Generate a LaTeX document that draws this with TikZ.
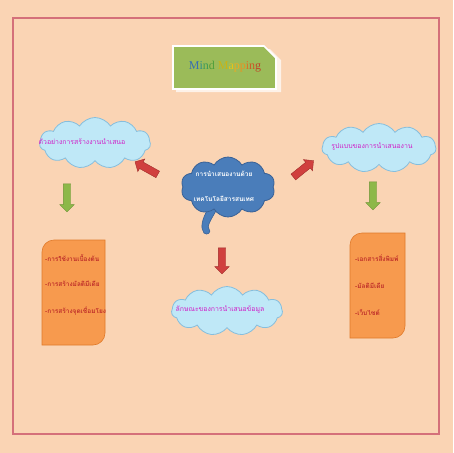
\documentclass[tikz,border=0pt]{standalone}
\usepackage{fontspec}
\setmainfont{Liberation Serif}
\newfontfamily\thaifont[Script=Thai]{Loma}
\usetikzlibrary{shapes.symbols,shapes.arrows,shadows}
\definecolor{bgpeach}{HTML}{FAD4B4}
\definecolor{framered}{HTML}{D4707A}
\definecolor{cloudfill}{HTML}{BFE8F7}
\definecolor{cloudline}{HTML}{86BEDD}
\definecolor{darkcloud}{HTML}{4A7DBA}
\definecolor{darkline}{HTML}{3A6296}
\definecolor{thaimag}{HTML}{D020C8}
\definecolor{orangebox}{HTML}{F79A4E}
\definecolor{orangeline}{HTML}{E07A2A}
\definecolor{boxtext}{HTML}{C0302A}
\definecolor{titlegreen}{HTML}{9BBB59}
\definecolor{redarrow}{HTML}{D0403E}
\definecolor{redline}{HTML}{A02C2A}
\definecolor{greenarrow}{HTML}{8DB849}
\definecolor{greenline}{HTML}{6E9436}
\tikzset{
  lightcloud/.style={cloud, cloud puffs=11, cloud puff arc=115, aspect=2.2,
    fill=cloudfill, draw=cloudline, line width=0.8pt, inner sep=0pt,
    minimum width=111pt, minimum height=51pt},
  cloudtext/.style={inner sep=0pt, text=thaimag,
    font=\thaifont\fontsize{6.9}{8}\selectfont},
  darkcloudst/.style={cloud, cloud puffs=10, cloud puff arc=120, aspect=1.6,
    fill=darkcloud, draw=darkline, line width=0.8pt, inner sep=0pt,
    minimum width=94pt, minimum height=60pt},
  redarr/.style={single arrow, fill=redarrow, draw=redline, line width=0.4pt,
    inner sep=3.5pt, single arrow head extend=3.5pt, minimum height=26pt},
  greenarr/.style={single arrow, fill=greenarrow, draw=greenline, line width=0.4pt,
    inner sep=3.5pt, single arrow head extend=3.5pt, minimum height=28pt, rotate=-90},
  boxline/.style={anchor=west, inner sep=0pt, text=boxtext,
    font=\thaifont\bfseries\fontsize{6.5}{8}\selectfont},
  centertext/.style={inner sep=0pt, text=white,
    font=\thaifont\bfseries\fontsize{6.5}{8}\selectfont},
}
\begin{document}
\begin{tikzpicture}[x=1pt,y=1pt]
% background
\fill[bgpeach] (0,0) rectangle (453,-453);
\useasboundingbox (0,0) rectangle (453,-453);
\draw[framered, line width=1.3pt] (13,-18) rectangle (439,-434);

% title box
\fill[white!70!bgpeach] (176,-49) -- (270,-49) -- (281,-60) -- (281,-92) -- (176,-92) -- cycle;
\draw[fill=titlegreen, draw=white, line width=1.6pt] (173,-46) -- (264,-46) -- (276,-58) -- (276,-89) -- (173,-89) -- cycle;
\node (title) at (225,-67) {\fontsize{12}{14}\selectfont
  \textcolor[HTML]{3A6FB0}{M}\textcolor[HTML]{2E8C8C}{i}\textcolor[HTML]{3C9A5A}{n}\textcolor[HTML]{4E9E3A}{d}
  \textcolor[HTML]{C8B418}{M}\textcolor[HTML]{E8C418}{a}\textcolor[HTML]{F0A820}{p}\textcolor[HTML]{EC9020}{p}\textcolor[HTML]{DE7024}{i}\textcolor[HTML]{CE5626}{n}\textcolor[HTML]{C04428}{g}};

% clouds
\node[lightcloud] (left) at (95,-143) {};
\node[cloudtext] (lefttext) at (82,-142) {ตัวอย่างการสร้างงานนำเสนอ};
\node[lightcloud, minimum width=114pt, minimum height=49pt] (right) at (379,-148) {};
\node[cloudtext] (righttext) at (372,-147) {รูปแบบของการนำเสนองาน};
\node[lightcloud, minimum height=49pt] (bottom) at (227,-311) {};
\node[cloudtext] (bottomtext) at (220,-310) {ลักษณะของการนำเสนอข้อมูล};

% center cloud tail
\fill[darkcloud, draw=darkline, line width=0.6pt]
  (208,-209) .. controls (202,-219) and (200,-228) .. (204,-233)
  .. controls (207,-236) and (212,-232) .. (209,-229)
  .. controls (206,-227) and (212,-218) .. (217,-209) -- cycle;
\node[darkcloudst] (center) at (228,-187) {};
\node[centertext] (ct1) at (224,-174) {การนำเสนองานด้วย};
\node[centertext] (ct2) at (224,-199) {เทคโนโลยีสารสนเทศ};

% red arrows
\node[redarr, rotate=151] (ra1) at (148,-169) {};
\node[redarr, rotate=39] (ra2) at (302,-170) {};
\node[redarr, rotate=-90] (ra3) at (222,-259) {};

% green arrows
\node[greenarr] (ga1) at (67,-196) {};
\node[greenarr] (ga2) at (373,-194) {};

% orange boxes
\draw[fill=orangebox, draw=orangeline, line width=0.6pt]
  (54,-240) -- (105,-240) -- (105,-333) arc (0:-90:12) -- (42,-345) -- (42,-252) arc (180:90:12) -- cycle;
\draw[fill=orangebox, draw=orangeline, line width=0.6pt]
  (362,-233) -- (405,-233) -- (405,-326) arc (0:-90:12) -- (350,-338) -- (350,-245) arc (180:90:12) -- cycle;

\node[boxline] (l1) at (45,-258) {-การใช้งานเบื้องต้น};
\node[boxline] (l2) at (45,-284) {-การสร้างมัลติมีเดีย};
\node[boxline] (l3) at (45,-311) {-การสร้างจุดเชื่อมโยง};
\node[boxline] (r1) at (355,-258) {-เอกสารสิ่งพิมพ์};
\node[boxline] (r2) at (355,-286) {-มัลติมีเดีย};
\node[boxline] (r3) at (355,-313) {-เว็บไซต์};
\end{tikzpicture}
\end{document}
